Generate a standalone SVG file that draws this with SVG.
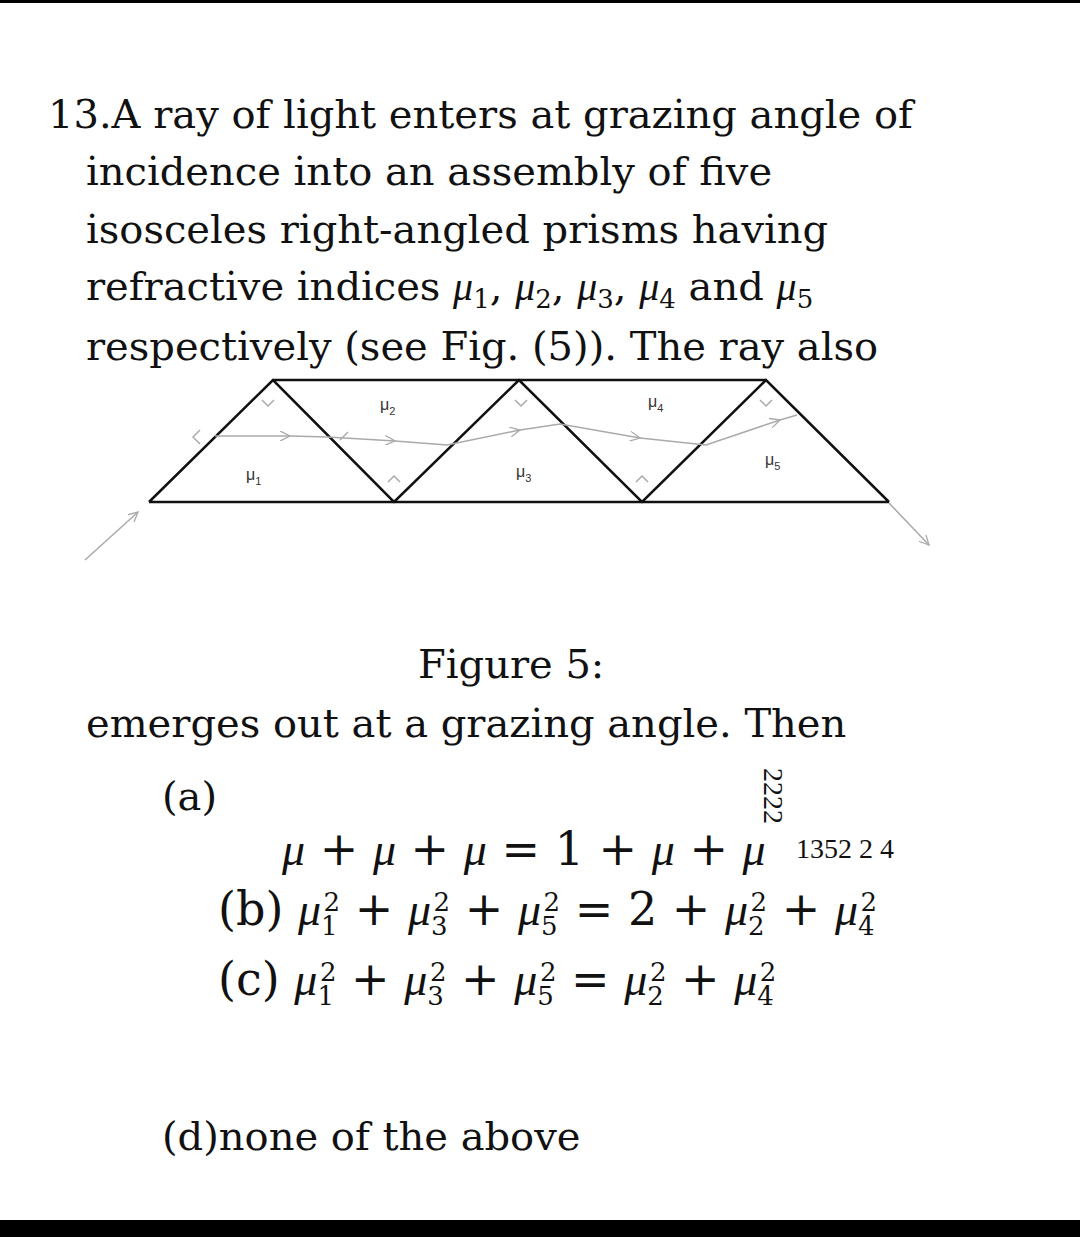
<svg xmlns="http://www.w3.org/2000/svg" width="1080" height="1237" viewBox="0 0 1080 1237">
<style>
.t{font-family:"DejaVu Serif","Liberation Serif",serif;font-size:40px;fill:#111}
.e{font-family:"DejaVu Serif","Liberation Serif",serif;font-size:46px;fill:#111}
.m{font-family:"Liberation Serif",serif;font-style:italic;fill:#111}
.s{font-family:"Liberation Serif",serif;font-size:28px;fill:#111}
.p{fill:none;stroke:#111;stroke-width:2.5}
.r{fill:none;stroke:#aaa;stroke-width:1.5}
.l{font-family:"Liberation Sans",sans-serif;font-size:16px;fill:#333}
</style>
<defs><marker id="a" markerWidth="12" markerHeight="10" refX="10" refY="5" orient="auto" markerUnits="userSpaceOnUse"><path d="M0,0 L10,5 L0,10" fill="none" stroke="#aaa" stroke-width="1.3"/></marker></defs>
<rect width="1080" height="1237" fill="#fff"/>
<rect x="0" y="0" width="1080" height="3" fill="#000"/>
<rect x="0" y="1220" width="1080" height="17" fill="#000"/>
<text class="t" x="48" y="128">13.A ray of light enters at grazing angle of</text>
<text class="t" x="86" y="185">incidence into an assembly of five</text>
<text class="t" x="86" y="243">isosceles right-angled prisms having</text>
<text class="t" x="86" y="300">refractive indices <tspan class="m">μ</tspan><tspan font-size="26" dy="8">1</tspan><tspan dy="-8">, </tspan><tspan class="m">μ</tspan><tspan font-size="26" dy="8">2</tspan><tspan dy="-8">, </tspan><tspan class="m">μ</tspan><tspan font-size="26" dy="8">3</tspan><tspan dy="-8">, </tspan><tspan class="m">μ</tspan><tspan font-size="26" dy="8">4</tspan><tspan dy="-8"> and </tspan><tspan class="m">μ</tspan><tspan font-size="26" dy="8">5</tspan></text>
<text class="t" x="86" y="360">respectively (see Fig. (5)). The ray also</text>
<g id="prisms">
<path class="p" d="M149,502 L889,502 M273,380 L766,380 M149,502 L273,380 L394,502 L519,380 L642,502 L766,380 L889,502"/>
</g>
<g id="labels">
<text class="l" x="380" y="410">μ<tspan font-size="11" dy="5">2</tspan></text>
<text class="l" x="648" y="407">μ<tspan font-size="11" dy="5">4</tspan></text>
<text class="l" x="246" y="480">μ<tspan font-size="11" dy="5">1</tspan></text>
<text class="l" x="516" y="477">μ<tspan font-size="11" dy="5">3</tspan></text>
<text class="l" x="765" y="465">μ<tspan font-size="11" dy="5">5</tspan></text>
</g>
<g id="connectors">
<path class="r" d="M85,560 L138,512" marker-end="url(#a)"/>
<path class="r" d="M215,436 L290,436" marker-end="url(#a)"/>
<path class="r" d="M290,436 L328,437 L395,441" marker-end="url(#a)"/>
<path class="r" d="M395,441 L447,445 L520,430" marker-end="url(#a)"/>
<path class="r" d="M520,430 L560,424 L640,438" marker-end="url(#a)"/>
<path class="r" d="M640,438 L706,445 L780,420" marker-end="url(#a)"/>
<path class="r" d="M780,420 L797,415"/>
<path class="r" d="M889,503 L929,545" marker-end="url(#a)"/>
<path class="r" d="M200,430 L193,437 L200,444 M348,432 L340,440 M262,400 L268,406 L274,400 M515,400 L521,406 L527,400 M760,400 L766,406 L772,400 M388,482 L394,476 L400,482 M636,482 L642,476 L648,482"/>
</g>
<text class="t" x="418" y="678">Figure 5:</text>
<text class="t" x="86" y="737">emerges out at a grazing angle. Then</text>
<text class="t" x="162" y="810">(a)</text>
<text class="e" x="282" y="865" font-size="42"><tspan class="m">μ</tspan> + <tspan class="m">μ</tspan> + <tspan class="m">μ</tspan> = 1 + <tspan class="m">μ</tspan> + <tspan class="m">μ</tspan></text>
<text class="s" x="764" y="768" transform="rotate(90 764 768)">2222</text>
<text class="s" x="796" y="858">1352 2 4</text>
<text class="e" x="218" y="925">(b) <tspan class="m">μ</tspan><tspan font-size="26" dy="10">1</tspan><tspan font-size="26" dx="-14" dy="-24">2</tspan><tspan dy="14"> + </tspan><tspan class="m">μ</tspan><tspan font-size="26" dy="10">3</tspan><tspan font-size="26" dx="-14" dy="-24">2</tspan><tspan dy="14"> + </tspan><tspan class="m">μ</tspan><tspan font-size="26" dy="10">5</tspan><tspan font-size="26" dx="-14" dy="-24">2</tspan><tspan dy="14"> = 2 + </tspan><tspan class="m">μ</tspan><tspan font-size="26" dy="10">2</tspan><tspan font-size="26" dx="-14" dy="-24">2</tspan><tspan dy="14"> + </tspan><tspan class="m">μ</tspan><tspan font-size="26" dy="10">4</tspan><tspan font-size="26" dx="-14" dy="-24">2</tspan></text>
<text class="e" x="218" y="995">(c) <tspan class="m">μ</tspan><tspan font-size="26" dy="10">1</tspan><tspan font-size="26" dx="-14" dy="-24">2</tspan><tspan dy="14"> + </tspan><tspan class="m">μ</tspan><tspan font-size="26" dy="10">3</tspan><tspan font-size="26" dx="-14" dy="-24">2</tspan><tspan dy="14"> + </tspan><tspan class="m">μ</tspan><tspan font-size="26" dy="10">5</tspan><tspan font-size="26" dx="-14" dy="-24">2</tspan><tspan dy="14"> = </tspan><tspan class="m">μ</tspan><tspan font-size="26" dy="10">2</tspan><tspan font-size="26" dx="-14" dy="-24">2</tspan><tspan dy="14"> + </tspan><tspan class="m">μ</tspan><tspan font-size="26" dy="10">4</tspan><tspan font-size="26" dx="-14" dy="-24">2</tspan></text>
<text class="t" x="162" y="1150">(d)none of the above</text>
</svg>
